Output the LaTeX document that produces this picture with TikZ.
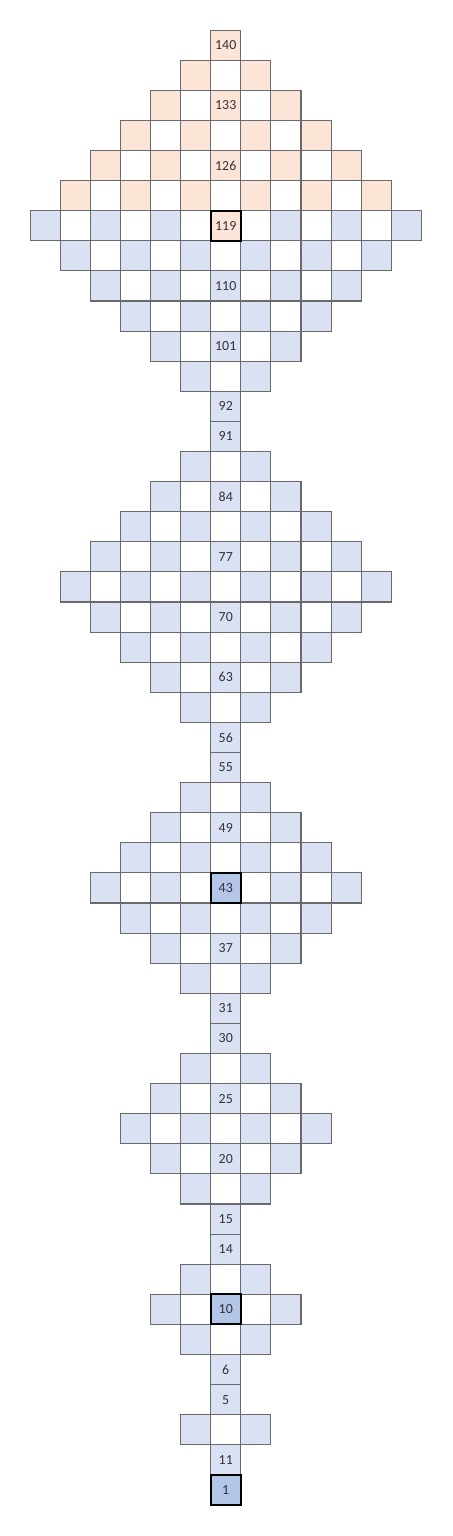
\documentclass[tikz,border=0pt]{standalone}
\usepackage{fontspec}
\setmainfont{Carlito}
\usepackage{tikz}
\usetikzlibrary{positioning}
\definecolor{peach}{RGB}{252,228,214}
\definecolor{paleblue}{RGB}{217,225,242}
\definecolor{darkblue}{RGB}{180,198,231}
\definecolor{gridgray}{RGB}{105,105,110}
\definecolor{numgray}{RGB}{50,50,60}

\begin{document}
\begin{tikzpicture}[x=0.8cm,y=0.8cm,
  cell/.style={draw=gridgray,line width=0.85pt,minimum size=0.8cm,inner sep=0pt,outer sep=0pt},
  lbl/.style={text=numgray,font=\fontsize{10.5}{12}\selectfont,inner sep=0pt},
  mark box/.style={draw=black,line width=1.5pt}]
\useasboundingbox (-7.5,1.5) rectangle (7.52,-49.53);
\foreach \r/\h in {0/0,1/1,2/2,3/3,4/4,5/5,6/6,7/5,8/4,9/3,10/2,11/1,12/0,13/0,
    14/1,15/2,16/3,17/4,18/5,19/4,20/3,21/2,22/1,23/0,24/0,
    25/1,26/2,27/3,28/4,29/3,30/2,31/1,32/0,33/0,
    34/1,35/2,36/3,37/2,38/1,39/0,40/0,41/1,42/2,43/1,44/0,45/0,46/1,47/0,48/0}{
  \pgfmathtruncatemacro\n{2*\h}
  \foreach \k in {0,...,\n}{
    \pgfmathtruncatemacro\c{\k-\h}
    \pgfmathtruncatemacro\on{mod(\h-abs(\c),2)==0}
    \def\fc{white}
    \ifnum\on=1 \ifnum\r<7 \def\fc{peach}\else\def\fc{paleblue}\fi\fi
    \ifnum\r=6 \ifnum\c=0\else\ifnum\on=1 \def\fc{paleblue}\fi\fi\fi
    \ifnum\c=0 \ifnum\r=28 \def\fc{darkblue}\fi\ifnum\r=42 \def\fc{darkblue}\fi\ifnum\r=48 \def\fc{darkblue}\fi\fi
    \node[cell,fill=\fc] (cell-\r-\c) at (\c,-\r) {};
  }
}
\foreach \r/\t in {0/140,2/133,4/126,6/119,8/110,10/101,12/92,13/91,15/84,17/77,19/70,21/63,
    23/56,24/55,26/49,28/43,30/37,32/31,33/30,35/25,37/20,39/15,40/14,42/10,44/6,45/5,47/11,48/1}
  \node[lbl] (lbl-\r) at (cell-\r-0) {\t};
\foreach \r in {6,28,42,48}
  \draw[mark box] (cell-\r-0.south west) rectangle (cell-\r-0.north east);
\end{tikzpicture}
\end{document}
